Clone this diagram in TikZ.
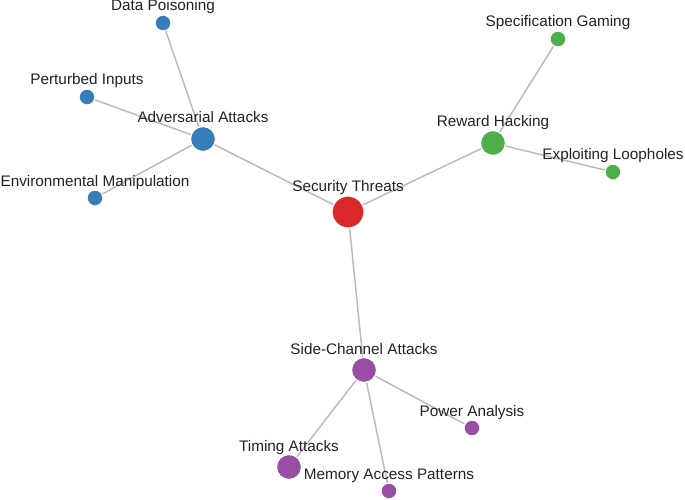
\documentclass[tikz,border=0pt]{standalone}
\usepackage{fontspec}
\setmainfont{Liberation Sans}
\usetikzlibrary{backgrounds}
\definecolor{cred}{HTML}{DC2828}
\definecolor{cblue}{HTML}{377EB8}
\definecolor{cgreen}{HTML}{4DAF4A}
\definecolor{cpurple}{HTML}{984EA3}
\definecolor{edgec}{HTML}{BBBBBB}
\definecolor{textc}{HTML}{222222}
\begin{document}
\begin{tikzpicture}[x=1pt,y=-1pt,
  dot/.style={circle,inner sep=0pt,draw=white,line width=1.2pt},
  root/.style={dot,minimum size=32pt},
  mid/.style={dot,minimum size=25pt},
  leaf/.style={dot,minimum size=16pt},
  lab/.style={anchor=base,text=textc,font=\fontsize{15.3}{18}\selectfont,inner sep=0pt},
  link/.style={draw=edgec,line width=1.5pt}]
\useasboundingbox (0,0) rectangle (685,500);
% nodes
\node[root,fill=cred] (st) at (348,212) {};
\node[mid,fill=cblue] (adv) at (203,139) {};
\node[leaf,fill=cblue] (dp) at (163,23) {};
\node[leaf,fill=cblue] (pi) at (87,97) {};
\node[leaf,fill=cblue] (em) at (95,198) {};
\node[mid,fill=cgreen] (rh) at (493,143) {};
\node[leaf,fill=cgreen] (sg) at (558,39) {};
\node[leaf,fill=cgreen] (el) at (613,172) {};
\node[mid,fill=cpurple] (sc) at (364,370) {};
\node[leaf,fill=cpurple] (pa) at (472,428) {};
\node[mid,fill=cpurple] (ta) at (289,467) {};
\node[leaf,fill=cpurple] (ma) at (389,491) {};
% links behind nodes
\begin{scope}[on background layer]
\draw[link] (st.center) -- (adv.center);
\draw[link] (st.center) -- (rh.center);
\draw[link] (st.center) -- (sc.center);
\draw[link] (adv.center) -- (dp.center);
\draw[link] (adv.center) -- (pi.center);
\draw[link] (adv.center) -- (em.center);
\draw[link] (rh.center) -- (sg.center);
\draw[link] (rh.center) -- (el.center);
\draw[link] (sc.center) -- (pa.center);
\draw[link] (sc.center) -- (ta.center);
\draw[link] (sc.center) -- (ma.center);
\end{scope}
% labels
\node[lab] (stl) at (348,191) {Security Threats};
\node[lab] (advl) at (203,123) {Adversarial Attacks};
\node[lab] (dpl) at (163,11) {Data Poisoning};
\node[lab] (pil) at (87,85) {Perturbed Inputs};
\node[lab] (eml) at (95,186) {Environmental Manipulation};
\node[lab] (rhl) at (493,127) {Reward Hacking};
\node[lab] (sgl) at (558,27) {Specification Gaming};
\node[lab] (ell) at (613,160) {Exploiting Loopholes};
\node[lab] (scl) at (364,354) {Side-Channel Attacks};
\node[lab] (pal) at (472,416) {Power Analysis};
\node[lab] (tal) at (289,451) {Timing Attacks};
\node[lab] (mal) at (389,479) {Memory Access Patterns};
\end{tikzpicture}
\end{document}
